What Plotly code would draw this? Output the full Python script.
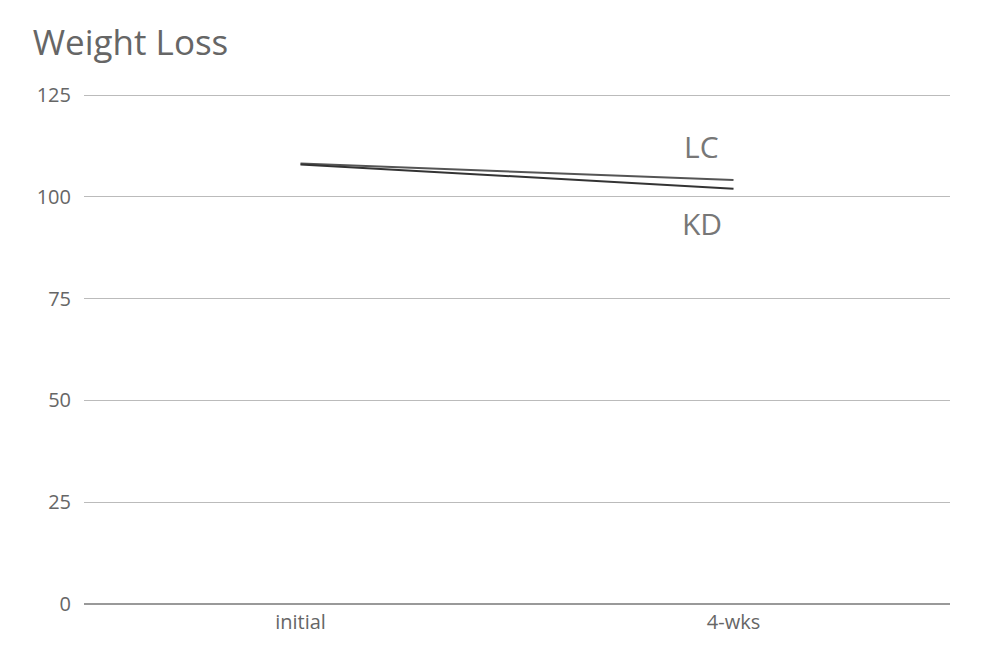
import plotly.graph_objs as go

# Weight values
weeks = ['initial', '4-wks']
lc_weight = [108.2, 104.2]
kd_weight = [108.0, 102.0]
y_ticks = [0, 25, 50, 75, 100, 125]

fig = go.Figure()

fig.add_trace(go.Scatter(x=weeks, y=lc_weight, mode='lines', name='LC',
                         line=dict(color='#555555', width=2)))
fig.add_trace(go.Scatter(x=weeks, y=kd_weight, mode='lines', name='KD',
                         line=dict(color='#333333', width=2)))

# end-of-line labels
fig.add_annotation(x=weeks[-1], y=lc_weight[-1], text='LC', showarrow=False,
                   yshift=33, xshift=-32, font=dict(size=30, color='#777777'))
fig.add_annotation(x=weeks[-1], y=kd_weight[-1], text='KD', showarrow=False,
                   yshift=-35, xshift=-32, font=dict(size=30, color='#777777'))

fig.update_layout(
    title=dict(text='Weight Loss', x=0.025, y=0.947, xanchor='left',
               yanchor='middle', font=dict(size=35, color='#666666')),
    font=dict(family='Open Sans', color='#666666', size=20),
    plot_bgcolor='white',
    paper_bgcolor='white',
    showlegend=False,
    width=991,
    height=664,
    margin=dict(l=76, r=49, t=86, b=68),
    xaxis=dict(range=[-0.5, 1.5], showgrid=False, zeroline=False,
               showline=False, tickfont=dict(size=20), ticklabelstandoff=4),
    yaxis=dict(range=[0, 125.3], tickvals=y_ticks, showgrid=True,
               gridcolor='#bbbbbb', zeroline=True, zerolinecolor='#999999',
               ticks='', ticklen=0, tickfont=dict(size=20),
               ticklabelstandoff=12),
)

fig.write_html("out.html")
